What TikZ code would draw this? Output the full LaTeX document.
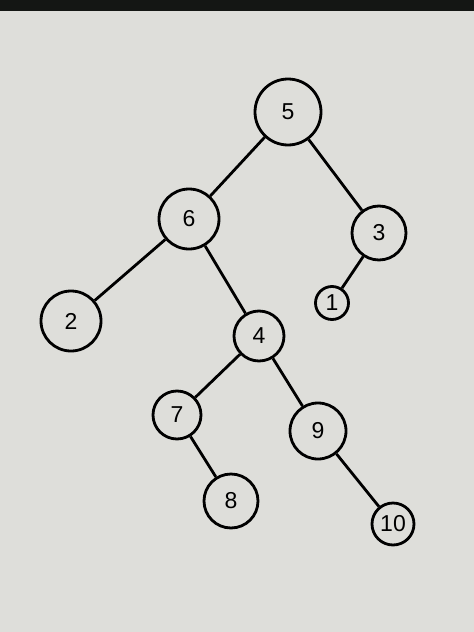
\documentclass[tikz,border=0pt]{standalone}
\usepackage{fontspec}
\setmainfont{Liberation Sans}
\usepackage{tikz}
\usetikzlibrary{positioning}
\definecolor{paper}{HTML}{DEDEDA}
\definecolor{bezel}{HTML}{141614}

\begin{document}
\begin{tikzpicture}[x=1pt, y=-1pt, line width=2.8pt,
        vertex/.style={circle, draw, inner sep=0pt, font=\fontsize{23}{23}\selectfont}]
        % page and the dark strip at the top
        \fill[paper] (0,0) rectangle (474,632);
        \fill[bezel] (0,0) rectangle (474,11);
        \useasboundingbox (0,0) rectangle (474,632);

        \node[vertex, minimum size=66pt] (n5)  at (288,112) {5};
        \node[vertex, minimum size=60pt] (n6)  at (189,219) {6};
        \node[vertex, minimum size=54pt] (n3)  at (379,233) {3};
        \node[vertex, minimum size=60pt] (n2)  at (71,321)  {2};
        \node[vertex, minimum size=33pt] (n1)  at (332,303) {1};
        \node[vertex, minimum size=50pt] (n4)  at (259,336) {4};
        \node[vertex, minimum size=48pt] (n7)  at (177,415) {7};
        \node[vertex, minimum size=56pt] (n9)  at (318,431) {9};
        \node[vertex, minimum size=54pt] (n8)  at (231,501) {8};
        \node[vertex, minimum size=42pt] (n10) at (393,524) {10};

        \path
        (n5) edge (n6)
             edge (n3)
        (n6) edge (n2)
             edge (n4)
        (n3) edge (n1)
        (n4) edge (n7)
             edge (n9)
        (n7) edge (n8)
        (n9) edge (n10);

    \end{tikzpicture}
\end{document}
